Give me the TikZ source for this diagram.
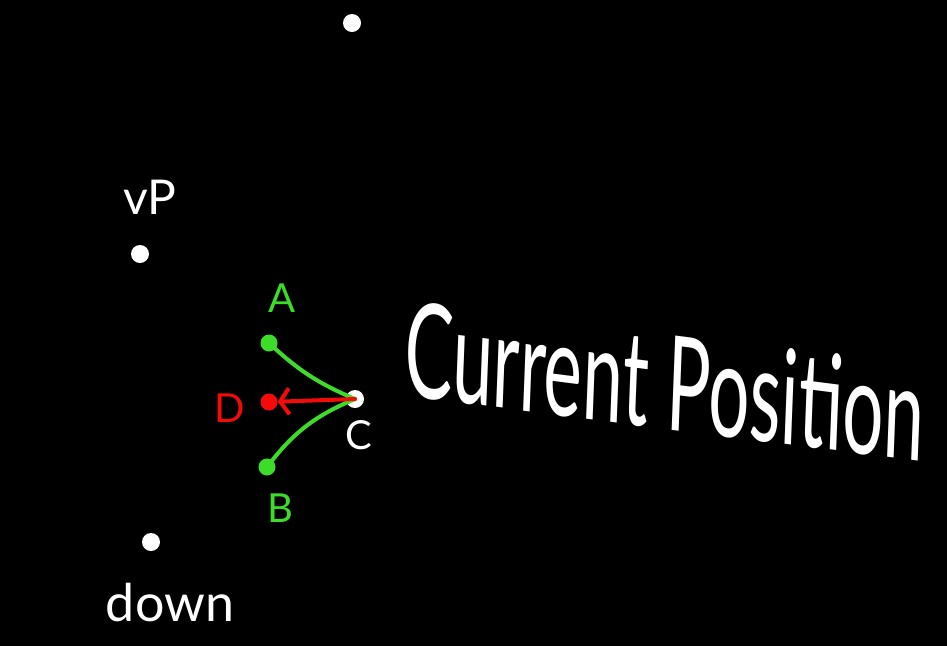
\documentclass[tikz,border=0pt]{standalone}
\usepackage{fontspec}
\setmainfont{Lato}
\usetikzlibrary{arrows.meta}
\definecolor{hgreen}{RGB}{60,220,40}
\definecolor{hred}{RGB}{245,10,10}
\begin{document}
\begin{tikzpicture}[x=1pt,y=-1pt,
  dotw/.style={circle,fill=white,inner sep=0pt,minimum size=18pt},
  dotg/.style={circle,fill=hgreen,inner sep=0pt,minimum size=17pt},
  dotr/.style={circle,fill=hred,inner sep=0pt,minimum size=17pt},
  lbl/.style={font=\fontsize{40}{40}\selectfont,inner sep=0pt},
  big/.style={font=\fontsize{132}{132}\selectfont,inner sep=0pt,text=white},
  stroke/.style={line width=4pt,line cap=round}]
\fill[black] (0,0) rectangle (947,646);
\useasboundingbox (0,0) rectangle (947,646);
% dots
\node[dotw] (top) at (352,23) {};
\node[dotw] (up) at (140,254) {};
\node[dotw] (down) at (151,542) {};
\node[dotw] (C) at (355,399) {};
\node[dotg] (A) at (269,343) {};
\node[dotg] (B) at (267,467) {};
\node[dotr] (D) at (269,402) {};
% connectors
\draw[stroke,hgreen] (A.center) to[bend right=10] (C.center);
\draw[stroke,hgreen] (B.center) to[bend left=15] (C.center);
\draw[stroke,hred,-{Straight Barb[length=9pt,width=26pt,line width=4pt]}] (C.center) -- (D);
% labels
\node[lbl,text=hgreen] (lA) at (282,298) {A};
\node[lbl,text=hgreen] (lB) at (280,508) {B};
\node[lbl,text=hred] (lD) at (230,408) {D};
\node[lbl,text=white] (lC) at (359,435) {C};
\node[lbl,text=white,font=\fontsize{48}{48}\selectfont] (lup) at (150,197) {vP};
\node[lbl,text=white,font=\fontsize{52}{52}\selectfont] (ldown) at (170,603) {down};
\node[big,xscale=0.55,rotate=-4] (cur) at (665,381) {Current Position};
\end{tikzpicture}
\end{document}
